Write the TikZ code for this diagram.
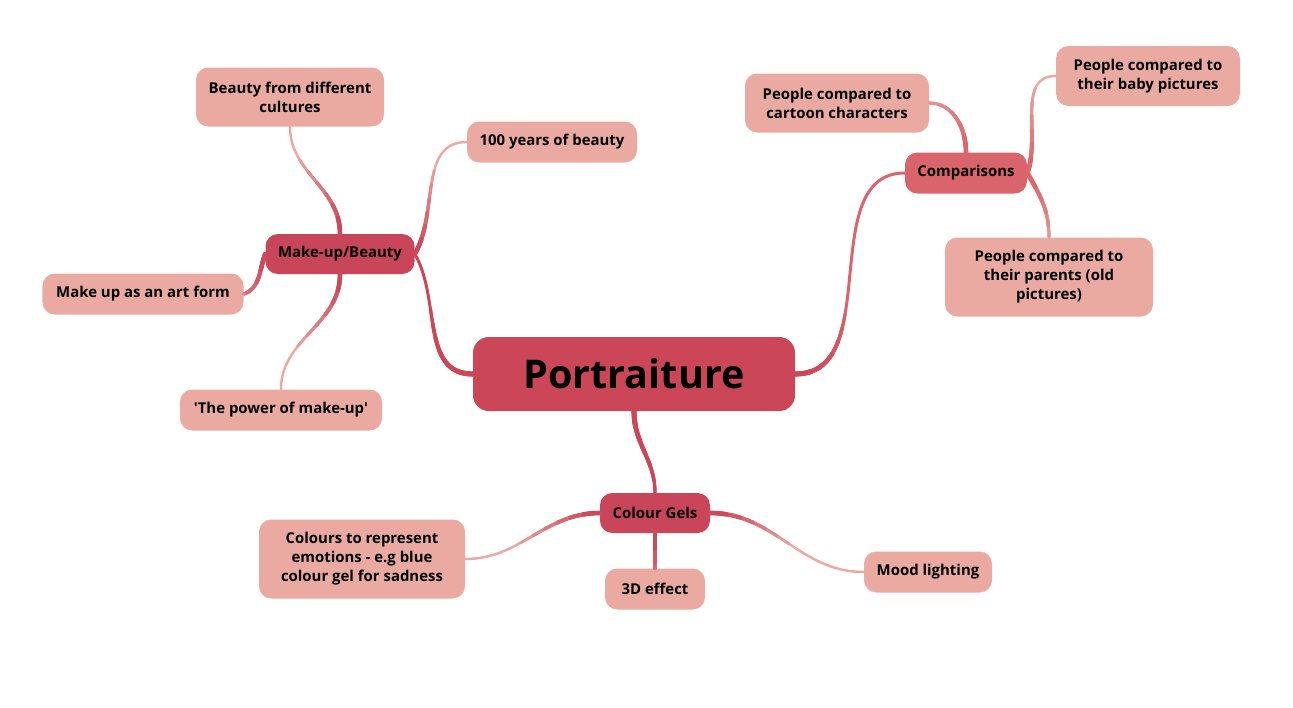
\documentclass[tikz,border=0pt]{standalone}
\usepackage{fontspec}
\setmainfont{Open Sans}
\usetikzlibrary{positioning}

\definecolor{rootred}{HTML}{CB4757}
\definecolor{topicred}{HTML}{C9465A}
\definecolor{topicpink}{HTML}{D9646B}
\definecolor{leafpink}{HTML}{EBAAA1}

\tikzset{
  box/.style={rounded corners=7pt, align=center, inner sep=0pt,
    font=\bfseries\fontsize{8.5}{10.8}\selectfont},
  boxsize/.style 2 args={minimum width=#1cm, minimum height=#2cm},
  root/.style={box, fill=rootred, rounded corners=9pt,
    font=\bfseries\fontsize{22.5}{27}\selectfont},
  topic/.style={box, fill=#1},
  leaf/.style={box, fill=leafpink},
  twig/.style={line cap=round, line width=#1pt},
}

\begin{document}
\begin{tikzpicture}[on grid]
  \useasboundingbox (0,0) rectangle (25.86,-14.14);

  % central topic and main branches
  \node[root, boxsize={6.44}{1.48}] (port) at (12.68,-7.48) {Portraiture};
  \node[topic=topicred, boxsize={2.98}{0.8}, above left=2.4cm and 5.88cm of port] (beauty) {Make-up/Beauty};
  \node[topic=topicpink, boxsize={2.44}{0.82}, above right=4.02cm and 6.64cm of port] (comp) {Comparisons};
  \node[topic=topicred, boxsize={2.2}{0.8}, below right=2.78cm and 0.42cm of port] (gels) {Colour Gels};

  % make-up / beauty
  \node[leaf, boxsize={3.76}{1.18}, above left=3.14cm and 1.0cm of beauty] (cultures) {Beauty from different\\cultures};
  \node[leaf, boxsize={3.4}{0.82}, above right=2.24cm and 4.24cm of beauty] (years) {100 years of beauty};
  \node[leaf, boxsize={4.02}{0.82}, below left=0.8cm and 3.94cm of beauty] (artform) {Make up as an art form};
  \node[leaf, boxsize={4.04}{0.82}, below left=3.12cm and 1.18cm of beauty] (power) {\textquotesingle The power of make-up\textquotesingle};

  % comparisons
  \node[leaf, boxsize={3.68}{1.18}, above left=1.4cm and 2.58cm of comp] (cartoon) {People compared to\\cartoon characters};
  \node[leaf, boxsize={3.68}{1.2}, above right=1.94cm and 3.64cm of comp] (baby) {People compared to\\their baby pictures};
  \node[leaf, boxsize={4.16}{1.58}, below right=2.08cm and 1.66cm of comp] (parents) {People compared to\\their parents (old\\pictures)};

  % colour gels
  \node[leaf, boxsize={4.12}{1.58}, below left=0.92cm and 5.86cm of gels] (emotions) {Colours to represent\\emotions - e.g blue\\colour gel for sadness};
  \node[leaf, boxsize={2.0}{0.82}, below=1.52cm of gels] (threed) {3D effect};
  \node[leaf, boxsize={2.56}{0.82}, below right=1.18cm and 5.46cm of gels] (mood) {Mood lighting};

  % tapered links, thick at the parent
  \foreach \from/\to/\o/\i/\c/\e/\w in {
      port.west/beauty.east/180/-60/rootred/rootred/1.7,
      port.east/comp.west/0/180/rootred/topicpink/1.7,
      port.south/gels.north/-90/90/rootred/rootred/1.7,
      beauty.north/cultures.south/90/-90/topicred/leafpink/1.4,
      beauty.east/years.west/60/180/topicred/leafpink/1.4,
      beauty.west/artform.east/-110/20/topicred/leafpink/1.4,
      beauty.south/power.north/-90/90/topicred/leafpink/1.4,
      comp.north/cartoon.east/90/0/topicpink/leafpink/1.4,
      comp.east/baby.west/70/180/topicpink/leafpink/1.4,
      comp.east/parents.north/-60/90/topicpink/leafpink/1.4,
      gels.west/emotions.east/180/0/topicred/leafpink/1.4,
      gels.south/threed.north/-90/90/topicred/leafpink/1.4,
      gels.east/mood.west/0/180/topicred/leafpink/1.4}{
    \foreach \k in {0,...,6}{
      \pgfmathsetmacro\lw{\w+0.2*\k}
      \pgfmathsetmacro\len{\k==0 ? 40 : 2-0.28*\k}
      \pgfmathtruncatemacro\pct{16*\k}
      \draw[twig=\lw, \c!\pct!\e, dash pattern=on \len cm off 40cm]
        (\from) to[out=\o, in=\i] (\to);
    }
  }
\end{tikzpicture}
\end{document}
